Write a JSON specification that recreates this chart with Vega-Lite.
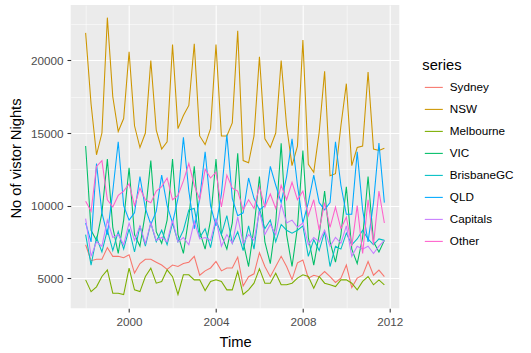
{
"$schema":"https://vega.github.io/schema/vega-lite/v6.json",
"width":328.6,"height":303.3,
"autosize":{"type":"none"},
"padding":{"left":70.7,"top":5,"right":131.7,"bottom":44.7},
"background":"white",
"config":{
"view":{"fill":"#EBEBEB","stroke":null},
"font":"Liberation Sans",
"axis":{"domain":false,"gridColor":"white","tickColor":"#333333","tickSize":3.7,"tickWidth":1.07,"labelColor":"#4D4D4D","labelFontSize":11.7,"titleFontSize":14.7,"titleFontWeight":"normal","titleColor":"black","labelFlush":false,"labelOverlap":false}
},
"data":{"values":[
{"time":1998,"series":"Sydney","value":7300},{"time":1998.25,"series":"Sydney","value":6200},{"time":1998.5,"series":"Sydney","value":6300},{"time":1998.75,"series":"Sydney","value":6300},
{"time":1999,"series":"Sydney","value":7100},{"time":1999.25,"series":"Sydney","value":6500},{"time":1999.5,"series":"Sydney","value":6500},{"time":1999.75,"series":"Sydney","value":6400},
{"time":2000,"series":"Sydney","value":6600},{"time":2000.25,"series":"Sydney","value":5350},{"time":2000.5,"series":"Sydney","value":6000},{"time":2000.75,"series":"Sydney","value":6300},
{"time":2001,"series":"Sydney","value":6300},{"time":2001.25,"series":"Sydney","value":6100},{"time":2001.5,"series":"Sydney","value":5900},{"time":2001.75,"series":"Sydney","value":5600},
{"time":2002,"series":"Sydney","value":5900},{"time":2002.25,"series":"Sydney","value":5800},{"time":2002.5,"series":"Sydney","value":6000},{"time":2002.75,"series":"Sydney","value":6100},
{"time":2003,"series":"Sydney","value":6500},{"time":2003.25,"series":"Sydney","value":5200},{"time":2003.5,"series":"Sydney","value":5500},{"time":2003.75,"series":"Sydney","value":5700},
{"time":2004,"series":"Sydney","value":6150},{"time":2004.25,"series":"Sydney","value":5500},{"time":2004.5,"series":"Sydney","value":5700},{"time":2004.75,"series":"Sydney","value":5700},
{"time":2005,"series":"Sydney","value":6450},{"time":2005.25,"series":"Sydney","value":4450},{"time":2005.5,"series":"Sydney","value":5100},{"time":2005.75,"series":"Sydney","value":5300},
{"time":2006,"series":"Sydney","value":6750},{"time":2006.25,"series":"Sydney","value":5800},{"time":2006.5,"series":"Sydney","value":5100},{"time":2006.75,"series":"Sydney","value":5800},
{"time":2007,"series":"Sydney","value":6500},{"time":2007.25,"series":"Sydney","value":5800},{"time":2007.5,"series":"Sydney","value":4900},{"time":2007.75,"series":"Sydney","value":6050},
{"time":2008,"series":"Sydney","value":6250},{"time":2008.25,"series":"Sydney","value":5000},{"time":2008.5,"series":"Sydney","value":5200},{"time":2008.75,"series":"Sydney","value":5100},
{"time":2009,"series":"Sydney","value":5450},{"time":2009.25,"series":"Sydney","value":5100},{"time":2009.5,"series":"Sydney","value":4700},{"time":2009.75,"series":"Sydney","value":5000},
{"time":2010,"series":"Sydney","value":5900},{"time":2010.25,"series":"Sydney","value":4350},{"time":2010.5,"series":"Sydney","value":5000},{"time":2010.75,"series":"Sydney","value":5200},
{"time":2011,"series":"Sydney","value":6150},{"time":2011.25,"series":"Sydney","value":5200},{"time":2011.5,"series":"Sydney","value":5550},{"time":2011.75,"series":"Sydney","value":5100},
{"time":1998,"series":"NSW","value":21900},{"time":1998.25,"series":"NSW","value":17000},{"time":1998.5,"series":"NSW","value":13500},{"time":1998.75,"series":"NSW","value":15000},
{"time":1999,"series":"NSW","value":22950},{"time":1999.25,"series":"NSW","value":17500},{"time":1999.5,"series":"NSW","value":15100},{"time":1999.75,"series":"NSW","value":16000},
{"time":2000,"series":"NSW","value":20600},{"time":2000.25,"series":"NSW","value":15500},{"time":2000.5,"series":"NSW","value":14000},{"time":2000.75,"series":"NSW","value":15000},
{"time":2001,"series":"NSW","value":20000},{"time":2001.25,"series":"NSW","value":15200},{"time":2001.5,"series":"NSW","value":13900},{"time":2001.75,"series":"NSW","value":14400},
{"time":2002,"series":"NSW","value":21100},{"time":2002.25,"series":"NSW","value":15300},{"time":2002.5,"series":"NSW","value":16200},{"time":2002.75,"series":"NSW","value":16900},
{"time":2003,"series":"NSW","value":21150},{"time":2003.25,"series":"NSW","value":14800},{"time":2003.5,"series":"NSW","value":14200},{"time":2003.75,"series":"NSW","value":15300},
{"time":2004,"series":"NSW","value":21100},{"time":2004.25,"series":"NSW","value":14800},{"time":2004.5,"series":"NSW","value":14800},{"time":2004.75,"series":"NSW","value":15700},
{"time":2005,"series":"NSW","value":22050},{"time":2005.25,"series":"NSW","value":13100},{"time":2005.5,"series":"NSW","value":12950},{"time":2005.75,"series":"NSW","value":14800},
{"time":2006,"series":"NSW","value":20250},{"time":2006.25,"series":"NSW","value":14600},{"time":2006.5,"series":"NSW","value":14000},{"time":2006.75,"series":"NSW","value":15000},
{"time":2007,"series":"NSW","value":20000},{"time":2007.25,"series":"NSW","value":15500},{"time":2007.5,"series":"NSW","value":12750},{"time":2007.75,"series":"NSW","value":14100},
{"time":2008,"series":"NSW","value":21400},{"time":2008.25,"series":"NSW","value":12850},{"time":2008.5,"series":"NSW","value":12300},{"time":2008.75,"series":"NSW","value":15050},
{"time":2009,"series":"NSW","value":19250},{"time":2009.25,"series":"NSW","value":12050},{"time":2009.5,"series":"NSW","value":12200},{"time":2009.75,"series":"NSW","value":15500},
{"time":2010,"series":"NSW","value":18400},{"time":2010.25,"series":"NSW","value":12750},{"time":2010.5,"series":"NSW","value":14000},{"time":2010.75,"series":"NSW","value":14100},
{"time":2011,"series":"NSW","value":19200},{"time":2011.25,"series":"NSW","value":13900},{"time":2011.5,"series":"NSW","value":13800},{"time":2011.75,"series":"NSW","value":13950},
{"time":1998,"series":"Melbourne","value":4880},{"time":1998.25,"series":"Melbourne","value":4070},{"time":1998.5,"series":"Melbourne","value":4400},{"time":1998.75,"series":"Melbourne","value":5110},
{"time":1999,"series":"Melbourne","value":5570},{"time":1999.25,"series":"Melbourne","value":3960},{"time":1999.5,"series":"Melbourne","value":3960},{"time":1999.75,"series":"Melbourne","value":3865},
{"time":2000,"series":"Melbourne","value":5690},{"time":2000.25,"series":"Melbourne","value":4190},{"time":2000.5,"series":"Melbourne","value":4070},{"time":2000.75,"series":"Melbourne","value":5110},
{"time":2001,"series":"Melbourne","value":5690},{"time":2001.25,"series":"Melbourne","value":4650},{"time":2001.5,"series":"Melbourne","value":4770},{"time":2001.75,"series":"Melbourne","value":5570},
{"time":2002,"series":"Melbourne","value":5100},{"time":2002.25,"series":"Melbourne","value":3870},{"time":2002.5,"series":"Melbourne","value":5230},{"time":2002.75,"series":"Melbourne","value":5230},
{"time":2003,"series":"Melbourne","value":4880},{"time":2003.25,"series":"Melbourne","value":4880},{"time":2003.5,"series":"Melbourne","value":4140},{"time":2003.75,"series":"Melbourne","value":4770},
{"time":2004,"series":"Melbourne","value":4880},{"time":2004.25,"series":"Melbourne","value":4770},{"time":2004.5,"series":"Melbourne","value":4190},{"time":2004.75,"series":"Melbourne","value":4190},
{"time":2005,"series":"Melbourne","value":5460},{"time":2005.25,"series":"Melbourne","value":3870},{"time":2005.5,"series":"Melbourne","value":4190},{"time":2005.75,"series":"Melbourne","value":4650},
{"time":2006,"series":"Melbourne","value":5650},{"time":2006.25,"series":"Melbourne","value":4650},{"time":2006.5,"series":"Melbourne","value":4650},{"time":2006.75,"series":"Melbourne","value":5340},
{"time":2007,"series":"Melbourne","value":4540},{"time":2007.25,"series":"Melbourne","value":4540},{"time":2007.5,"series":"Melbourne","value":4650},{"time":2007.75,"series":"Melbourne","value":5000},
{"time":2008,"series":"Melbourne","value":5230},{"time":2008.25,"series":"Melbourne","value":5110},{"time":2008.5,"series":"Melbourne","value":4310},{"time":2008.75,"series":"Melbourne","value":5110},
{"time":2009,"series":"Melbourne","value":4650},{"time":2009.25,"series":"Melbourne","value":4540},{"time":2009.5,"series":"Melbourne","value":4420},{"time":2009.75,"series":"Melbourne","value":4880},
{"time":2010,"series":"Melbourne","value":4880},{"time":2010.25,"series":"Melbourne","value":4650},{"time":2010.5,"series":"Melbourne","value":4190},{"time":2010.75,"series":"Melbourne","value":4770},
{"time":2011,"series":"Melbourne","value":5110},{"time":2011.25,"series":"Melbourne","value":4540},{"time":2011.5,"series":"Melbourne","value":4880},{"time":2011.75,"series":"Melbourne","value":4540},
{"time":1998,"series":"VIC","value":14100},{"time":1998.25,"series":"VIC","value":8300},{"time":1998.5,"series":"VIC","value":7600},{"time":1998.75,"series":"VIC","value":9500},
{"time":1999,"series":"VIC","value":13200},{"time":1999.25,"series":"VIC","value":8500},{"time":1999.5,"series":"VIC","value":6700},{"time":1999.75,"series":"VIC","value":9000},
{"time":2000,"series":"VIC","value":12600},{"time":2000.25,"series":"VIC","value":8000},{"time":2000.5,"series":"VIC","value":7200},{"time":2000.75,"series":"VIC","value":9500},
{"time":2001,"series":"VIC","value":13100},{"time":2001.25,"series":"VIC","value":8200},{"time":2001.5,"series":"VIC","value":7400},{"time":2001.75,"series":"VIC","value":9000},
{"time":2002,"series":"VIC","value":13200},{"time":2002.25,"series":"VIC","value":8000},{"time":2002.5,"series":"VIC","value":6700},{"time":2002.75,"series":"VIC","value":9200},
{"time":2003,"series":"VIC","value":12700},{"time":2003.25,"series":"VIC","value":8200},{"time":2003.5,"series":"VIC","value":7000},{"time":2003.75,"series":"VIC","value":9000},
{"time":2004,"series":"VIC","value":13200},{"time":2004.25,"series":"VIC","value":8000},{"time":2004.5,"series":"VIC","value":7000},{"time":2004.75,"series":"VIC","value":8800},
{"time":2005,"series":"VIC","value":13600},{"time":2005.25,"series":"VIC","value":7500},{"time":2005.5,"series":"VIC","value":5800},{"time":2005.75,"series":"VIC","value":8500},
{"time":2006,"series":"VIC","value":12000},{"time":2006.25,"series":"VIC","value":7500},{"time":2006.5,"series":"VIC","value":6000},{"time":2006.75,"series":"VIC","value":8800},
{"time":2007,"series":"VIC","value":14300},{"time":2007.25,"series":"VIC","value":8000},{"time":2007.5,"series":"VIC","value":5800},{"time":2007.75,"series":"VIC","value":8500},
{"time":2008,"series":"VIC","value":13800},{"time":2008.25,"series":"VIC","value":7800},{"time":2008.5,"series":"VIC","value":5900},{"time":2008.75,"series":"VIC","value":8000},
{"time":2009,"series":"VIC","value":11000},{"time":2009.25,"series":"VIC","value":7500},{"time":2009.5,"series":"VIC","value":6100},{"time":2009.75,"series":"VIC","value":8000},
{"time":2010,"series":"VIC","value":11300},{"time":2010.25,"series":"VIC","value":7000},{"time":2010.5,"series":"VIC","value":6000},{"time":2010.75,"series":"VIC","value":7800},
{"time":2011,"series":"VIC","value":12000},{"time":2011.25,"series":"VIC","value":7500},{"time":2011.5,"series":"VIC","value":6800},{"time":2011.75,"series":"VIC","value":7600},
{"time":1998,"series":"BrisbaneGC","value":8000},{"time":1998.25,"series":"BrisbaneGC","value":5900},{"time":1998.5,"series":"BrisbaneGC","value":7800},{"time":1998.75,"series":"BrisbaneGC","value":6800},
{"time":1999,"series":"BrisbaneGC","value":8300},{"time":1999.25,"series":"BrisbaneGC","value":6900},{"time":1999.5,"series":"BrisbaneGC","value":8200},{"time":1999.75,"series":"BrisbaneGC","value":7000},
{"time":2000,"series":"BrisbaneGC","value":8400},{"time":2000.25,"series":"BrisbaneGC","value":6800},{"time":2000.5,"series":"BrisbaneGC","value":8600},{"time":2000.75,"series":"BrisbaneGC","value":7200},
{"time":2001,"series":"BrisbaneGC","value":8800},{"time":2001.25,"series":"BrisbaneGC","value":7500},{"time":2001.5,"series":"BrisbaneGC","value":8300},{"time":2001.75,"series":"BrisbaneGC","value":7300},
{"time":2002,"series":"BrisbaneGC","value":8800},{"time":2002.25,"series":"BrisbaneGC","value":7500},{"time":2002.5,"series":"BrisbaneGC","value":8300},{"time":2002.75,"series":"BrisbaneGC","value":9700},
{"time":2003,"series":"BrisbaneGC","value":9800},{"time":2003.25,"series":"BrisbaneGC","value":7800},{"time":2003.5,"series":"BrisbaneGC","value":8400},{"time":2003.75,"series":"BrisbaneGC","value":7100},
{"time":2004,"series":"BrisbaneGC","value":9000},{"time":2004.25,"series":"BrisbaneGC","value":8000},{"time":2004.5,"series":"BrisbaneGC","value":9300},{"time":2004.75,"series":"BrisbaneGC","value":7400},
{"time":2005,"series":"BrisbaneGC","value":8200},{"time":2005.25,"series":"BrisbaneGC","value":6900},{"time":2005.5,"series":"BrisbaneGC","value":8600},{"time":2005.75,"series":"BrisbaneGC","value":7000},
{"time":2006,"series":"BrisbaneGC","value":9800},{"time":2006.25,"series":"BrisbaneGC","value":8400},{"time":2006.5,"series":"BrisbaneGC","value":9000},{"time":2006.75,"series":"BrisbaneGC","value":7500},
{"time":2007,"series":"BrisbaneGC","value":8700},{"time":2007.25,"series":"BrisbaneGC","value":8300},{"time":2007.5,"series":"BrisbaneGC","value":8100},{"time":2007.75,"series":"BrisbaneGC","value":8300},
{"time":2008,"series":"BrisbaneGC","value":8600},{"time":2008.25,"series":"BrisbaneGC","value":6500},{"time":2008.5,"series":"BrisbaneGC","value":7650},{"time":2008.75,"series":"BrisbaneGC","value":6900},
{"time":2009,"series":"BrisbaneGC","value":8200},{"time":2009.25,"series":"BrisbaneGC","value":5800},{"time":2009.5,"series":"BrisbaneGC","value":7200},{"time":2009.75,"series":"BrisbaneGC","value":7000},
{"time":2010,"series":"BrisbaneGC","value":8100},{"time":2010.25,"series":"BrisbaneGC","value":7300},{"time":2010.5,"series":"BrisbaneGC","value":7700},{"time":2010.75,"series":"BrisbaneGC","value":8300},
{"time":2011,"series":"BrisbaneGC","value":7700},{"time":2011.25,"series":"BrisbaneGC","value":7300},{"time":2011.5,"series":"BrisbaneGC","value":7700},{"time":2011.75,"series":"BrisbaneGC","value":7600},
{"time":1998,"series":"QLD","value":8800},{"time":1998.25,"series":"QLD","value":7500},{"time":1998.5,"series":"QLD","value":12900},{"time":1998.75,"series":"QLD","value":9500},
{"time":1999,"series":"QLD","value":8000},{"time":1999.25,"series":"QLD","value":11000},{"time":1999.5,"series":"QLD","value":14400},{"time":1999.75,"series":"QLD","value":10000},
{"time":2000,"series":"QLD","value":9000},{"time":2000.25,"series":"QLD","value":9500},{"time":2000.5,"series":"QLD","value":12000},{"time":2000.75,"series":"QLD","value":9800},
{"time":2001,"series":"QLD","value":8700},{"time":2001.25,"series":"QLD","value":9600},{"time":2001.5,"series":"QLD","value":12100},{"time":2001.75,"series":"QLD","value":10000},
{"time":2002,"series":"QLD","value":8800},{"time":2002.25,"series":"QLD","value":10500},{"time":2002.5,"series":"QLD","value":14700},{"time":2002.75,"series":"QLD","value":11000},
{"time":2003,"series":"QLD","value":8400},{"time":2003.25,"series":"QLD","value":10500},{"time":2003.5,"series":"QLD","value":13700},{"time":2003.75,"series":"QLD","value":10000},
{"time":2004,"series":"QLD","value":8600},{"time":2004.25,"series":"QLD","value":10800},{"time":2004.5,"series":"QLD","value":14900},{"time":2004.75,"series":"QLD","value":10500},
{"time":2005,"series":"QLD","value":9300},{"time":2005.25,"series":"QLD","value":9500},{"time":2005.5,"series":"QLD","value":11900},{"time":2005.75,"series":"QLD","value":10500},
{"time":2006,"series":"QLD","value":9700},{"time":2006.25,"series":"QLD","value":10000},{"time":2006.5,"series":"QLD","value":12700},{"time":2006.75,"series":"QLD","value":11400},
{"time":2007,"series":"QLD","value":10200},{"time":2007.25,"series":"QLD","value":12000},{"time":2007.5,"series":"QLD","value":14600},{"time":2007.75,"series":"QLD","value":11400},
{"time":2008,"series":"QLD","value":8800},{"time":2008.25,"series":"QLD","value":10200},{"time":2008.5,"series":"QLD","value":12100},{"time":2008.75,"series":"QLD","value":10200},
{"time":2009,"series":"QLD","value":9700},{"time":2009.25,"series":"QLD","value":10200},{"time":2009.5,"series":"QLD","value":14400},{"time":2009.75,"series":"QLD","value":11400},
{"time":2010,"series":"QLD","value":9400},{"time":2010.25,"series":"QLD","value":9400},{"time":2010.5,"series":"QLD","value":13700},{"time":2010.75,"series":"QLD","value":9700},
{"time":2011,"series":"QLD","value":7500},{"time":2011.25,"series":"QLD","value":10200},{"time":2011.5,"series":"QLD","value":14300},{"time":2011.75,"series":"QLD","value":10200},
{"time":1998,"series":"Capitals","value":9100},{"time":1998.25,"series":"Capitals","value":6500},{"time":1998.5,"series":"Capitals","value":7500},{"time":1998.75,"series":"Capitals","value":7200},
{"time":1999,"series":"Capitals","value":9000},{"time":1999.25,"series":"Capitals","value":7800},{"time":1999.5,"series":"Capitals","value":8000},{"time":1999.75,"series":"Capitals","value":7300},
{"time":2000,"series":"Capitals","value":8800},{"time":2000.25,"series":"Capitals","value":7600},{"time":2000.5,"series":"Capitals","value":8600},{"time":2000.75,"series":"Capitals","value":7400},
{"time":2001,"series":"Capitals","value":8800},{"time":2001.25,"series":"Capitals","value":7600},{"time":2001.5,"series":"Capitals","value":7800},{"time":2001.75,"series":"Capitals","value":7500},
{"time":2002,"series":"Capitals","value":9000},{"time":2002.25,"series":"Capitals","value":7500},{"time":2002.5,"series":"Capitals","value":7800},{"time":2002.75,"series":"Capitals","value":7300},
{"time":2003,"series":"Capitals","value":8900},{"time":2003.25,"series":"Capitals","value":7700},{"time":2003.5,"series":"Capitals","value":7800},{"time":2003.75,"series":"Capitals","value":7600},
{"time":2004,"series":"Capitals","value":9100},{"time":2004.25,"series":"Capitals","value":7200},{"time":2004.5,"series":"Capitals","value":8000},{"time":2004.75,"series":"Capitals","value":7400},
{"time":2005,"series":"Capitals","value":9200},{"time":2005.25,"series":"Capitals","value":7400},{"time":2005.5,"series":"Capitals","value":8000},{"time":2005.75,"series":"Capitals","value":7600},
{"time":2006,"series":"Capitals","value":9600},{"time":2006.25,"series":"Capitals","value":8000},{"time":2006.5,"series":"Capitals","value":8700},{"time":2006.75,"series":"Capitals","value":8000},
{"time":2007,"series":"Capitals","value":10100},{"time":2007.25,"series":"Capitals","value":8800},{"time":2007.5,"series":"Capitals","value":9000},{"time":2007.75,"series":"Capitals","value":8500},
{"time":2008,"series":"Capitals","value":8800},{"time":2008.25,"series":"Capitals","value":7300},{"time":2008.5,"series":"Capitals","value":7800},{"time":2008.75,"series":"Capitals","value":7500},
{"time":2009,"series":"Capitals","value":8300},{"time":2009.25,"series":"Capitals","value":7200},{"time":2009.5,"series":"Capitals","value":7800},{"time":2009.75,"series":"Capitals","value":7400},
{"time":2010,"series":"Capitals","value":8600},{"time":2010.25,"series":"Capitals","value":6500},{"time":2010.5,"series":"Capitals","value":7200},{"time":2010.75,"series":"Capitals","value":7000},
{"time":2011,"series":"Capitals","value":7200},{"time":2011.25,"series":"Capitals","value":6700},{"time":2011.5,"series":"Capitals","value":7200},{"time":2011.75,"series":"Capitals","value":7600},
{"time":1998,"series":"Other","value":10300},{"time":1998.25,"series":"Other","value":9600},{"time":1998.5,"series":"Other","value":12700},{"time":1998.75,"series":"Other","value":13100},
{"time":1999,"series":"Other","value":10400},{"time":1999.25,"series":"Other","value":9900},{"time":1999.5,"series":"Other","value":10700},{"time":1999.75,"series":"Other","value":11000},
{"time":2000,"series":"Other","value":11500},{"time":2000.25,"series":"Other","value":10000},{"time":2000.5,"series":"Other","value":11200},{"time":2000.75,"series":"Other","value":10400},
{"time":2001,"series":"Other","value":10200},{"time":2001.25,"series":"Other","value":11000},{"time":2001.5,"series":"Other","value":11300},{"time":2001.75,"series":"Other","value":11900},
{"time":2002,"series":"Other","value":10400},{"time":2002.25,"series":"Other","value":10700},{"time":2002.5,"series":"Other","value":11700},{"time":2002.75,"series":"Other","value":12900},
{"time":2003,"series":"Other","value":11400},{"time":2003.25,"series":"Other","value":10400},{"time":2003.5,"series":"Other","value":12500},{"time":2003.75,"series":"Other","value":11900},
{"time":2004,"series":"Other","value":12300},{"time":2004.25,"series":"Other","value":9900},{"time":2004.5,"series":"Other","value":12100},{"time":2004.75,"series":"Other","value":11200},
{"time":2005,"series":"Other","value":11000},{"time":2005.25,"series":"Other","value":9700},{"time":2005.5,"series":"Other","value":10400},{"time":2005.75,"series":"Other","value":9800},
{"time":2006,"series":"Other","value":11300},{"time":2006.25,"series":"Other","value":9900},{"time":2006.5,"series":"Other","value":10800},{"time":2006.75,"series":"Other","value":9800},
{"time":2007,"series":"Other","value":11400},{"time":2007.25,"series":"Other","value":10400},{"time":2007.5,"series":"Other","value":11600},{"time":2007.75,"series":"Other","value":10400},
{"time":2008,"series":"Other","value":11000},{"time":2008.25,"series":"Other","value":9300},{"time":2008.5,"series":"Other","value":10400},{"time":2008.75,"series":"Other","value":8300},
{"time":2009,"series":"Other","value":10200},{"time":2009.25,"series":"Other","value":8500},{"time":2009.5,"series":"Other","value":9900},{"time":2009.75,"series":"Other","value":8400},
{"time":2010,"series":"Other","value":9200},{"time":2010.25,"series":"Other","value":7200},{"time":2010.5,"series":"Other","value":10000},{"time":2010.75,"series":"Other","value":6700},
{"time":2011,"series":"Other","value":10400},{"time":2011.25,"series":"Other","value":7300},{"time":2011.5,"series":"Other","value":11000},{"time":2011.75,"series":"Other","value":8800}
]},
"mark":{"type":"line","strokeWidth":1.07,"clip":true},
"encoding":{
"x":{"field":"time","type":"quantitative","scale":{"domain":[1997.3125,2012.4375],"nice":false,"zero":false},
"axis":{"title":"Time","values":[1998,2000,2002,2004,2006,2008,2010,2012],"format":"d","labelPadding":4,
"labelExpr":"datum.value % 4 === 0 ? datum.label : ''",
"gridWidth":{"condition":{"test":"datum.value % 4 === 0","value":1.07},"value":0.53},
"tickOpacity":{"condition":{"test":"datum.value % 4 === 0","value":1},"value":0},
"titleY":26,"titleBaseline":"top","titleX":164.3,"titleAlign":"center"}},
"y":{"field":"value","type":"quantitative","scale":{"domain":[2920,23822],"nice":false,"zero":false},
"axis":{"title":"No of vistor Nights","values":[2500,5000,7500,10000,12500,15000,17500,20000,22500],"format":"d","labelPadding":4,
"labelExpr":"datum.value % 5000 === 0 ? datum.label : ''",
"gridWidth":{"condition":{"test":"datum.value % 5000 === 0","value":1.07},"value":0.53},
"tickOpacity":{"condition":{"test":"datum.value % 5000 === 0","value":1},"value":0},
"titleX":-54.2,"titleY":153,"titleAngle":270,"titleAlign":"center","titleBaseline":"middle"}},
"color":{"field":"series","type":"nominal",
"scale":{"domain":["Sydney","NSW","Melbourne","VIC","BrisbaneGC","QLD","Capitals","Other"],"range":["#F8766D","#CD9600","#7CAE00","#00BE67","#00BFC4","#00A9FF","#C77CFF","#FF61CC"]},
"legend":{"orient":"none","legendX":351.6,"legendY":52.7,"title":"series","titleFontSize":14.7,"titleFontWeight":"normal","titleColor":"black","titlePadding":5,
"labelFontSize":11.7,"labelColor":"black","symbolType":"stroke","symbolSize":324,"symbolStrokeWidth":1.07,"symbolOffset":1.5,"labelOffset":6,"rowPadding":5,"padding":0}}
}
}
